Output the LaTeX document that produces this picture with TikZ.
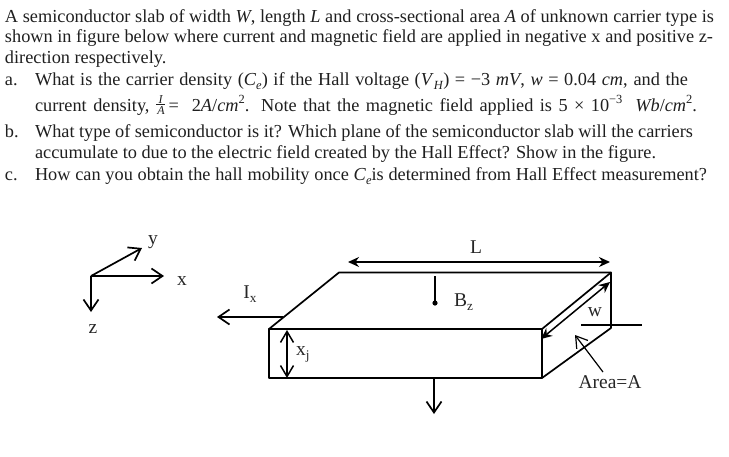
\documentclass[tikz,border=0pt]{standalone}
\usepackage{fontspec}
\setmainfont{Liberation Serif}
\usetikzlibrary{arrows.meta}
\newcommand{\ital}[1]{\textit{#1}}
\newcommand{\sbs}[1]{\raisebox{-0.25em}{\scalebox{0.68}{#1}}}
\newcommand{\sps}[1]{\raisebox{0.42em}{\scalebox{0.68}{#1}}}
\tikzset{
  x=1pt,y=-1pt,
  para/.style={anchor=base west,inner sep=0pt,outer sep=0pt,font=\fontsize{18.3}{21}\selectfont,text=black!88},
  lbl/.style={inner sep=0pt,outer sep=0pt,font=\fontsize{19.5}{21}\selectfont,text=black!85},
  edge/.style={draw=black,line width=1.7pt,line cap=round,line join=round},
  open/.style={draw=black,line width=1.7pt,-{Straight Barb[length=11pt,width=15pt,line width=1.7pt]}},
  openboth/.style={draw=black,line width=1.5pt,{Straight Barb[length=11pt,width=13pt,line width=1.5pt]}-{Straight Barb[length=11pt,width=13pt,line width=1.5pt]}},
  solidboth/.style={draw=black,line width=1.5pt,{Stealth[length=11pt,width=10pt]}-{Stealth[length=11pt,width=10pt]}},
  thin line/.style={draw=black,line width=1.2pt},
  areaarrow/.style={draw=black,line width=1.2pt,-{Straight Barb[length=11pt,width=14pt,line width=1.2pt]}}
}
\begin{document}
\begin{tikzpicture}
\useasboundingbox (0,0) rectangle (729,456);
% Text
\node[para] (t1) at (5,22) {\makebox[709pt][s]{A semiconductor slab of width \ital{W}, length \ital{L} and cross-sectional area \ital{A} of unknown carrier type is}};
\node[para] (t2) at (5,42) {\makebox[708pt][s]{shown in figure below where current and magnetic field are applied in negative x and positive z-}};
\node[para] (t3) at (5,63) {direction respectively.};
\node[para] (a) at (5,85) {a.};
\node[para] (t4) at (35,85) {\makebox[653pt][s]{What is the carrier density (\ital{C}\sbs{\ital{e}}) if the Hall voltage (\ital{V}\sbs{\ital{H}}) = −3 \ital{mV}, \ital{w} = 0.04 \ital{cm}, and the}};
\node[para] (t5) at (35,111) {\makebox[662pt][s]{current density, \raisebox{0.1em}{$\vcenter{\hbox{\fontsize{12}{12}\selectfont\hbox to 9pt{\hfil\ital{I}\hfil}}\vskip1pt\hrule height 0.8pt\vskip1pt\hbox{\fontsize{12}{12}\selectfont\hbox to 9pt{\hfil\ital{A}\hfil}}}$}\,= ~2\ital{A}/\ital{cm}\sps{2}. Note that the magnetic field applied is 5 × 10\sps{−3} ~\ital{Wb}/\ital{cm}\sps{2}.}};
\node[para] (b) at (5,137) {b.};
\node[para] (t6) at (35,137) {\makebox[658pt][s]{What type of semiconductor is it? Which plane of the semiconductor slab will the carriers}};
\node[para] (t7) at (35,158) {\makebox[621pt][s]{accumulate to due to the electric field created by the Hall Effect? Show in the figure.}};
\node[para] (c) at (5,180) {c.};
\node[para] (t8) at (35,180) {\makebox[672pt][s]{How can you obtain the hall mobility once \ital{C}\sbs{\ital{e}}is determined from Hall Effect measurement?}};
% Axes
\coordinate (o) at (91,276);
\coordinate (ty) at (142,248);
\coordinate (tx) at (164,276);
\coordinate (tz) at (91,312);
\draw[open] (o) -- (ty);
\draw[open] (o) -- (tx);
\draw[open] (o) -- (tz);
\node[lbl] (ly) at (153,242) {y};
\node[lbl] (lx) at (182,281) {x};
\node[lbl] (lz) at (93,329) {z};
% Slab
\coordinate (ftl) at (269,329);
\coordinate (fbl) at (269,378);
\coordinate (ftr) at (542,329);
\coordinate (fbr) at (542,378);
\coordinate (btl) at (339,272.5);
\coordinate (btr) at (611,272.5);
\coordinate (bbr) at (611,328);
\draw[edge] (ftl) -- (ftr) -- (fbr) -- (fbl) -- cycle;
\draw[edge] (ftl) -- (btl) -- (btr) -- (bbr) -- (fbr);
\draw[edge] (ftr) -- (btr);
% Ix
\coordinate (ix0) at (283,317);
\coordinate (ix1) at (217,317);
\draw[open] (ix0) -- (ix1);
\node[lbl,anchor=base] (ix) at (250,298) {I\sbs{x}};
% xj
\coordinate (xj0) at (287,330);
\coordinate (xj1) at (287,378);
\draw[openboth] (xj0) -- (xj1);
\node[lbl,anchor=base west] (xj) at (296,355) {x\sbs{j}};
% L
\coordinate (l0) at (348,262);
\coordinate (l1) at (610,262);
\draw[solidboth] (l0) -- (l1);
\node[lbl] (ll) at (476,247) {L};
% Bz
\coordinate (bz0) at (435,276);
\coordinate (bz1) at (435,303);
\draw[thin line] (bz0) -- (bz1);
\fill[black] (bz1) circle (2.6);
\node[lbl,anchor=base west] (bz) at (454,306) {B\sbs{z}};
% down arrow
\coordinate (d0) at (434,378);
\coordinate (d1) at (434,414);
\draw[open] (d0) -- (d1);
% w
\coordinate (w0) at (610,282);
\coordinate (w1) at (541,339);
\draw[solidboth] (w0) -- (w1);
\node[lbl] (lw) at (595,312) {w};
\coordinate (h0) at (581,325);
\coordinate (h1) at (642,325);
\draw[thin line] (h0) -- (h1);
% Area
\node[lbl] (area) at (610,382) {Area=A};
\coordinate (a0) at (603,372);
\coordinate (a1) at (575,335);
\draw[areaarrow] (a0) -- (a1);
\end{tikzpicture}
\end{document}
